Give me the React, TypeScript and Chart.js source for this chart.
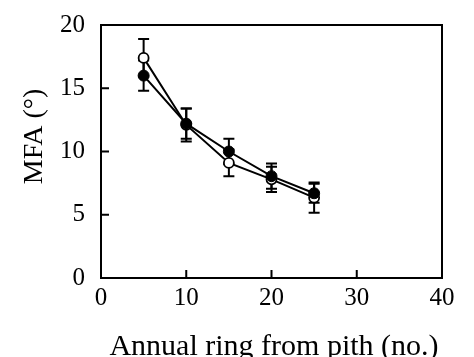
import React, { useEffect, useRef } from "react";
import { Chart, registerables } from "chart.js";

Chart.register(...registerables);

const rings = [5, 10, 15, 20, 25];
const filledMFA = [16.0, 12.2, 10.0, 8.05, 6.7];
const filledErr = [1.2, 1.2, 1.0, 1.0, 0.75];
const openMFA = [17.4, 12.1, 9.1, 7.8, 6.35];
const openErr = [1.5, 1.3, 1.05, 1.0, 1.2];
const xTicks = [0, 10, 20, 30, 40];
const yTicks = [0, 5, 10, 15, 20];
const xTitle = "Annual ring from pith (no.)";
const yTitle = "MFA (°)";

const FONT = "'Liberation Serif', 'Times New Roman', serif";

const framePlugin = {
  id: "frameAndBars",
  beforeDatasetsDraw(chart: any) {
    const { ctx, scales } = chart;
    const xs = scales.x;
    const ys = scales.y;
    ctx.save();
    ctx.strokeStyle = "#000";
    ctx.lineWidth = 2;
    const cap = 5.5;
    const sets = [
      { v: filledMFA, e: filledErr },
      { v: openMFA, e: openErr },
    ];
    sets.forEach((s) => {
      rings.forEach((r, i) => {
        const px = xs.getPixelForValue(r);
        const top = ys.getPixelForValue(s.v[i] + s.e[i]);
        const bot = ys.getPixelForValue(s.v[i] - s.e[i]);
        ctx.beginPath();
        ctx.moveTo(px, top);
        ctx.lineTo(px, bot);
        ctx.moveTo(px - cap, top);
        ctx.lineTo(px + cap, top);
        ctx.moveTo(px - cap, bot);
        ctx.lineTo(px + cap, bot);
        ctx.stroke();
      });
    });
    ctx.restore();
  },
  afterDraw(chart: any) {
    const { ctx, chartArea, scales } = chart;
    const { left, right, top, bottom } = chartArea;
    ctx.save();
    ctx.strokeStyle = "#000";
    ctx.lineWidth = 2;
    ctx.strokeRect(left, top, right - left, bottom - top);
    const tl = 8;
    ctx.lineWidth = 2;
    ctx.beginPath();
    xTicks.forEach((t) => {
      const px = scales.x.getPixelForValue(t);
      ctx.moveTo(px, bottom);
      ctx.lineTo(px, bottom - tl);
    });
    yTicks.forEach((t) => {
      const py = scales.y.getPixelForValue(t);
      ctx.moveTo(left, py);
      ctx.lineTo(left + tl, py);
    });
    ctx.stroke();

    ctx.fillStyle = "#000";
    ctx.font = `30px ${FONT}`;
    ctx.textAlign = "center";
    ctx.textBaseline = "alphabetic";
    ctx.fillText(xTitle, 274, 355);

    ctx.translate(35, 136.5);
    ctx.rotate(-Math.PI / 2);
    ctx.font = `28px ${FONT}`;
    ctx.textBaseline = "middle";
    ctx.fillText(yTitle, 0, 0);
    ctx.restore();
  },
};

export default function App() {
  const ref = useRef<HTMLCanvasElement | null>(null);
  useEffect(() => {
    if (!ref.current) return;
    const chart = new Chart(ref.current, {
      type: "line",
      data: {
        datasets: [
          {
            label: "filled",
            data: rings.map((r, i) => ({ x: r, y: filledMFA[i] })),
            borderColor: "#000",
            borderWidth: 2,
            pointRadius: 5.5,
            pointBackgroundColor: "#000",
            pointBorderColor: "#000",
            pointBorderWidth: 1,
            fill: false,
            tension: 0,
          },
          {
            label: "open",
            data: rings.map((r, i) => ({ x: r, y: openMFA[i] })),
            borderColor: "#000",
            borderWidth: 2,
            pointRadius: 5,
            pointBackgroundColor: "#fff",
            pointBorderColor: "#000",
            pointBorderWidth: 1.8,
            fill: false,
            tension: 0,
          },
        ],
      },
      options: {
        responsive: false,
        animation: false,
        devicePixelRatio: 1,
        layout: { padding: { top: 25, right: 32, left: 0, bottom: 0 } },
        plugins: {
          legend: { display: false },
          tooltip: { enabled: false },
          title: { display: false },
        },
        scales: {
          x: {
            type: "linear",
            min: 0,
            max: 40,
            afterFit: (s: any) => {
              s.height = 79;
            },
            afterBuildTicks: (s: any) => {
              s.ticks = xTicks.map((v) => ({ value: v }));
            },
            grid: { display: false },
            border: { display: false },
            ticks: {
              color: "#000",
              font: { family: FONT, size: 25 },
              padding: -3,
              maxRotation: 0,
            },
          },
          y: {
            type: "linear",
            min: 0,
            max: 20,
            afterFit: (s: any) => {
              s.width = 101;
            },
            afterBuildTicks: (s: any) => {
              s.ticks = yTicks.map((v) => ({ value: v }));
            },
            grid: { display: false },
            border: { display: false },
            ticks: {
              color: "#000",
              font: { family: FONT, size: 25 },
              padding: 8,
            },
          },
        },
      },
      plugins: [framePlugin],
    } as any);
    return () => chart.destroy();
  }, []);
  return (
    <div style={{ position: "absolute", left: 0, top: 0, width: 474, height: 357, background: "#fff" }}>
      <canvas ref={ref} width={474} height={357} />
    </div>
  );
}
